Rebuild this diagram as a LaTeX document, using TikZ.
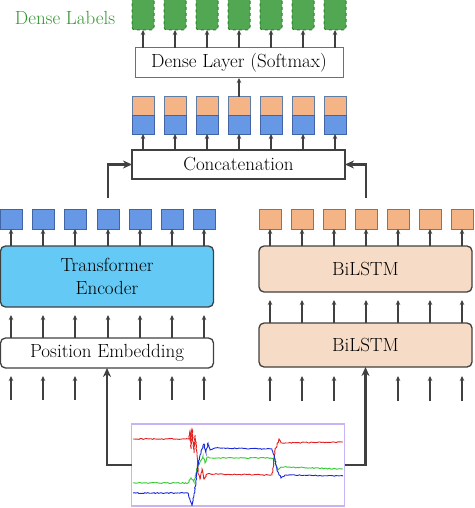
\documentclass[tikz,border=0pt]{standalone}
\usepackage{fontspec}
\usetikzlibrary{arrows.meta,decorations.pathmorphing}
\definecolor{dkgray}{RGB}{64,64,64}
\definecolor{tfill}{RGB}{100,202,245}
\definecolor{lfill}{RGB}{246,219,198}
\definecolor{ofill}{RGB}{244,180,134}
\definecolor{oborder}{RGB}{95,125,165}
\definecolor{bfill}{RGB}{102,152,230}
\definecolor{bborder}{RGB}{65,100,165}
\definecolor{gfill}{RGB}{82,168,82}
\definecolor{gborder}{RGB}{45,130,45}
\definecolor{dborder}{RGB}{70,120,170}
\definecolor{labgreen}{RGB}{50,150,50}
\definecolor{lav}{RGB}{200,180,245}
\definecolor{sred}{RGB}{225,30,30}
\definecolor{sblue}{RGB}{25,40,215}
\definecolor{sgreen}{RGB}{50,200,50}
\begin{document}
\begin{tikzpicture}[x=1pt,y=-1pt,
  every node/.style={font=\fontsize{19}{22.5}\selectfont, inner sep=0pt, outer sep=0pt},
  box/.style={draw=dkgray, line width=1.3pt, fill=white},
  rbox/.style={box, rounded corners=5pt},
  gbox/.style={draw=gborder, dashed, line width=1pt, fill=gfill, rounded corners=3pt, minimum width=22pt, minimum height=33pt},
  osq/.style={draw=oborder, line width=1pt, fill=ofill, minimum width=22pt, minimum height=19pt},
  bsq/.style={draw=bborder, line width=1pt, fill=bfill, minimum width=22pt, minimum height=19pt},
  arr/.style={draw=dkgray, line width=1.1pt, -{Stealth[length=5pt,width=4.5pt]}},
  thk/.style={draw=dkgray, line width=2.4pt, -{Stealth[length=9pt,width=8pt]}},
  sig/.style={line width=0.9pt, decorate, decoration={random steps, segment length=1.5pt, amplitude=0.5pt}}
]
\useasboundingbox (0,0) rectangle (474,508);
\pgfmathsetseed{7}

% Dense labels
\node[text=labgreen] (lab) at (65,18) {Dense Labels};
\foreach \i in {0,...,6} \node[gbox] (g\i) at ({143+32*\i},13.5) {};

\node[box, draw=dborder, line width=1pt, minimum width=208pt, minimum height=30pt] (dense) at (239,63) {Dense Layer (Softmax)};
\foreach \i in {0,...,6} \draw[arr] (dense.north -| g\i) -- (g\i.south);

% stacked outputs
\foreach \i in {0,...,6} {
  \node[osq] (o\i) at ({143+32*\i},106.5) {};
  \node[bsq, minimum height=18pt] (s\i) at ({143+32*\i},125) {};
}
\draw[arr] (o3.north) -- (dense.south);

\node[box, minimum width=213pt, minimum height=29pt] (concat) at (238.5,164.5) {Concatenation};
\foreach \i in {0,...,6} \draw[arr] (concat.north -| s\i) -- (s\i.south);

% left branch
\foreach \x [count=\i from 0] in {11,43,75,108,140,172,204}
  \node[bsq, minimum height=20pt] (l\i) at (\x,219) {};
\node[rbox, fill=tfill, minimum width=213pt, minimum height=61pt, align=center] (tr) at (107,276.5) {Transformer\\Encoder};
\foreach \i in {0,...,6} \draw[arr] (tr.north -| l\i) -- (l\i.south);
\node[rbox, minimum width=213pt, minimum height=30pt] (pe) at (107,353) {Position Embedding};
\foreach \i in {0,...,6} \draw[arr, shorten >=8pt] (pe.north -| l\i) -- (tr.south -| l\i);
\foreach \i in {0,1,2,4,5,6} {
  \coordinate (lb\i) at ([yshift=-32pt]pe.south -| l\i);
  \draw[arr, shorten >=8pt] (lb\i) -- (pe.south -| l\i);
}

% right branch
\foreach \i in {0,...,6} \node[osq, minimum height=20pt] (r\i) at ({270+32*\i},219) {};
\node[rbox, fill=lfill, minimum width=213pt, minimum height=46pt] (bl1) at (365.5,269) {BiLSTM};
\foreach \i in {0,...,6} \draw[arr] (bl1.north -| r\i) -- (r\i.south);
\node[rbox, fill=lfill, minimum width=213pt, minimum height=44pt] (bl2) at (365.5,345) {BiLSTM};
\foreach \i in {0,...,6} \draw[arr, shorten >=8pt] (bl2.north -| r\i) -- (bl1.south -| r\i);
\foreach \i in {0,1,2,4,5,6} {
  \coordinate (rb\i) at ([yshift=-34pt]bl2.south -| r\i);
  \draw[arr, shorten >=9pt] (rb\i) -- (bl2.south -| r\i);
}

% to concatenation
\draw[thk, shorten <=11pt] (l3.north) |- (concat.west);
\draw[thk, shorten <=11pt] (r3.north) |- (concat.east);

% signal
\node[draw=lav, line width=1.5pt, fill=white, minimum width=213pt, minimum height=82pt] (sig) at (238,465) {};
\draw[sig, sgreen] (133,483) -- (188,483) -- (191,478) -- (194,482) -- (197,468) -- (200,462) -- (203,456) -- (205,463) -- (207,457) -- (212,458) -- (274,458) -- (276,465) -- (278,470) -- (281,467) -- (343,469);
\draw[sig, sred] (133,439) -- (189,439) -- (190,431) -- (191,449) -- (192,429) -- (194,453) -- (195,435) -- (197,455) -- (198,472) -- (200,479) -- (202,469) -- (204,479) -- (207,474) -- (272,475) -- (273,468) -- (275,450) -- (277,445) -- (279,439) -- (281,443) -- (343,442);
\draw[sig, sblue] (133,493) -- (188,493) -- (190,500) -- (192,506) -- (194,495) -- (196,480) -- (198,465) -- (200,455) -- (202,449) -- (204,444) -- (206,453) -- (208,443) -- (210,450) -- (215,448) -- (272,449) -- (274,455) -- (276,465) -- (278,472) -- (281,478) -- (285,475) -- (343,476);

\draw[thk] (sig.west) -| (pe.south);
\draw[thk] (sig.east) -| (bl2.south);
\end{tikzpicture}
\end{document}
